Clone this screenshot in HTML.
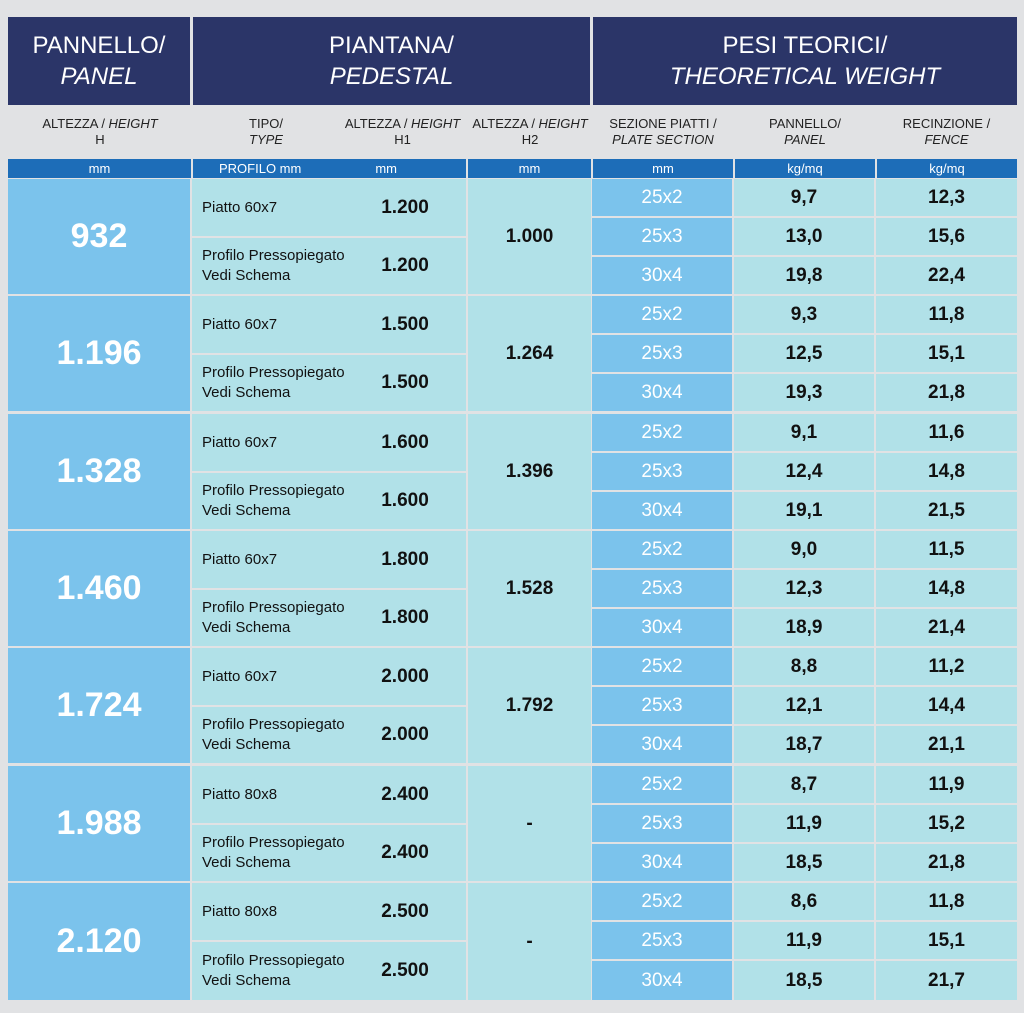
<!DOCTYPE html>
<html><head><meta charset="utf-8"><style>
html,body{margin:0;padding:0;background:#e1e2e4;width:1024px;height:1013px;overflow:hidden;font-family:"Liberation Sans",Arial,sans-serif}
div{position:absolute;box-sizing:border-box;display:flex;align-items:center;justify-content:center;text-align:center}
.n{background:#2b3568;color:#fff;font-size:24px;line-height:31px;top:17px;height:88px}
.s{color:#222;font-size:13px;line-height:16px;top:112px;height:40px}
.u{background:#1d6db8;color:#fff;font-size:13px;top:159px;height:19px}
.big{left:8px;width:182px;height:115px;background:#7bc3ec;color:#fff;font-weight:bold;font-size:34px}
.t1,.t2{left:192px;width:274px;background:#b1e1e8;color:#111;font-size:15px;line-height:20px;justify-content:flex-start;text-align:left;padding-left:10px}
.t1{height:57px}.t2{height:56px}
.v{left:360px;width:90px;font-weight:bold;font-size:19px;color:#111}
.h2{left:468px;width:123px;height:115px;background:#b1e1e8;font-weight:bold;font-size:19px;color:#111}
.a,.b,.c{height:37px;font-size:19px}
.a{left:592px;width:140px;background:#7bc3ec;color:#fff}
.b{left:734px;width:140px;background:#b1e1e8;font-weight:bold;color:#111}
.c{left:876px;width:141px;background:#b1e1e8;font-weight:bold;color:#111}
.nw{white-space:nowrap}
</style></head><body>
<div class="n" style="left:8px;width:182px"><span>PANNELLO/<br><i>PANEL</i></span></div>
<div class="n" style="left:193px;width:397px"><span>PIANTANA/<br><i>PEDESTAL</i></span></div>
<div class="n" style="left:593px;width:424px"><span>PESI TEORICI/<br><i>THEORETICAL WEIGHT</i></span></div>
<div class="s" style="left:8px;width:184px"><span>ALTEZZA / <i>HEIGHT</i><br>H</span></div>
<div class="s" style="left:236px;width:60px"><span>TIPO/<br><i>TYPE</i></span></div>
<div class="s nw" style="left:335px;width:135px"><span>ALTEZZA / <i>HEIGHT</i><br>H1</span></div>
<div class="s nw" style="left:465px;width:130px"><span>ALTEZZA / <i>HEIGHT</i><br>H2</span></div>
<div class="s nw" style="left:592px;width:142px"><span>SEZIONE PIATTI /<br><i>PLATE SECTION</i></span></div>
<div class="s" style="left:734px;width:142px"><span>PANNELLO/<br><i>PANEL</i></span></div>
<div class="s" style="left:876px;width:141px"><span>RECINZIONE /<br><i>FENCE</i></span></div>
<div class="u" style="left:8px;width:183px">mm</div>
<div class="u" style="left:193px;width:273px;justify-content:flex-start"><span style="margin-left:26px">PROFILO mm</span><span style="margin-left:74px">mm</span></div>
<div class="u" style="left:468px;width:123px">mm</div>
<div class="u" style="left:593px;width:140px">mm</div>
<div class="u" style="left:735px;width:140px">kg/mq</div>
<div class="u" style="left:877px;width:140px">kg/mq</div>

<div class="big" style="top:179px">932</div>
<div class="t1" style="top:179px">Piatto 60x7</div><div class="v" style="top:179px;height:57px">1.200</div>
<div class="t2" style="top:238px"><span>Profilo Pressopiegato<br>Vedi Schema</span></div><div class="v" style="top:238px;height:56px">1.200</div>
<div class="h2" style="top:179px">1.000</div>
<div class="a" style="top:179px">25x2</div><div class="b" style="top:179px">9,7</div><div class="c" style="top:179px">12,3</div>
<div class="a" style="top:218px">25x3</div><div class="b" style="top:218px">13,0</div><div class="c" style="top:218px">15,6</div>
<div class="a" style="top:257px">30x4</div><div class="b" style="top:257px">19,8</div><div class="c" style="top:257px">22,4</div>

<div class="big" style="top:296px">1.196</div>
<div class="t1" style="top:296px">Piatto 60x7</div><div class="v" style="top:296px;height:57px">1.500</div>
<div class="t2" style="top:355px"><span>Profilo Pressopiegato<br>Vedi Schema</span></div><div class="v" style="top:355px;height:56px">1.500</div>
<div class="h2" style="top:296px">1.264</div>
<div class="a" style="top:296px">25x2</div><div class="b" style="top:296px">9,3</div><div class="c" style="top:296px">11,8</div>
<div class="a" style="top:335px">25x3</div><div class="b" style="top:335px">12,5</div><div class="c" style="top:335px">15,1</div>
<div class="a" style="top:374px">30x4</div><div class="b" style="top:374px">19,3</div><div class="c" style="top:374px">21,8</div>

<div class="big" style="top:414px">1.328</div>
<div class="t1" style="top:414px">Piatto 60x7</div><div class="v" style="top:414px;height:57px">1.600</div>
<div class="t2" style="top:473px"><span>Profilo Pressopiegato<br>Vedi Schema</span></div><div class="v" style="top:473px;height:56px">1.600</div>
<div class="h2" style="top:414px">1.396</div>
<div class="a" style="top:414px">25x2</div><div class="b" style="top:414px">9,1</div><div class="c" style="top:414px">11,6</div>
<div class="a" style="top:453px">25x3</div><div class="b" style="top:453px">12,4</div><div class="c" style="top:453px">14,8</div>
<div class="a" style="top:492px">30x4</div><div class="b" style="top:492px">19,1</div><div class="c" style="top:492px">21,5</div>

<div class="big" style="top:531px">1.460</div>
<div class="t1" style="top:531px">Piatto 60x7</div><div class="v" style="top:531px;height:57px">1.800</div>
<div class="t2" style="top:590px"><span>Profilo Pressopiegato<br>Vedi Schema</span></div><div class="v" style="top:590px;height:56px">1.800</div>
<div class="h2" style="top:531px">1.528</div>
<div class="a" style="top:531px">25x2</div><div class="b" style="top:531px">9,0</div><div class="c" style="top:531px">11,5</div>
<div class="a" style="top:570px">25x3</div><div class="b" style="top:570px">12,3</div><div class="c" style="top:570px">14,8</div>
<div class="a" style="top:609px">30x4</div><div class="b" style="top:609px">18,9</div><div class="c" style="top:609px">21,4</div>

<div class="big" style="top:648px">1.724</div>
<div class="t1" style="top:648px">Piatto 60x7</div><div class="v" style="top:648px;height:57px">2.000</div>
<div class="t2" style="top:707px"><span>Profilo Pressopiegato<br>Vedi Schema</span></div><div class="v" style="top:707px;height:56px">2.000</div>
<div class="h2" style="top:648px">1.792</div>
<div class="a" style="top:648px">25x2</div><div class="b" style="top:648px">8,8</div><div class="c" style="top:648px">11,2</div>
<div class="a" style="top:687px">25x3</div><div class="b" style="top:687px">12,1</div><div class="c" style="top:687px">14,4</div>
<div class="a" style="top:726px">30x4</div><div class="b" style="top:726px">18,7</div><div class="c" style="top:726px">21,1</div>

<div class="big" style="top:766px">1.988</div>
<div class="t1" style="top:766px">Piatto 80x8</div><div class="v" style="top:766px;height:57px">2.400</div>
<div class="t2" style="top:825px"><span>Profilo Pressopiegato<br>Vedi Schema</span></div><div class="v" style="top:825px;height:56px">2.400</div>
<div class="h2" style="top:766px">-</div>
<div class="a" style="top:766px">25x2</div><div class="b" style="top:766px">8,7</div><div class="c" style="top:766px">11,9</div>
<div class="a" style="top:805px">25x3</div><div class="b" style="top:805px">11,9</div><div class="c" style="top:805px">15,2</div>
<div class="a" style="top:844px">30x4</div><div class="b" style="top:844px">18,5</div><div class="c" style="top:844px">21,8</div>

<div class="big" style="top:883px;height:117px">2.120</div>
<div class="t1" style="top:883px">Piatto 80x8</div><div class="v" style="top:883px;height:57px">2.500</div>
<div class="t2" style="top:942px;height:58px"><span>Profilo Pressopiegato<br>Vedi Schema</span></div><div class="v" style="top:942px;height:58px">2.500</div>
<div class="h2" style="top:883px;height:117px">-</div>
<div class="a" style="top:883px">25x2</div><div class="b" style="top:883px">8,6</div><div class="c" style="top:883px">11,8</div>
<div class="a" style="top:922px">25x3</div><div class="b" style="top:922px">11,9</div><div class="c" style="top:922px">15,1</div>
<div class="a" style="top:961px;height:39px">30x4</div><div class="b" style="top:961px;height:39px">18,5</div><div class="c" style="top:961px;height:39px">21,7</div>
</body></html>
